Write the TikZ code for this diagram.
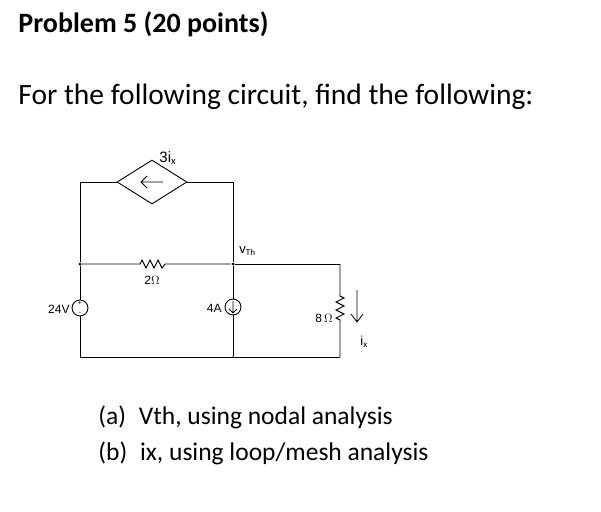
\documentclass[tikz,border=0pt]{standalone}
\usepackage{fontspec}
\setmainfont{Carlito}
\newfontfamily\cirfont{Liberation Sans}
\usetikzlibrary{shapes.geometric}
\begin{document}
\begin{tikzpicture}[x=1pt,y=-1pt,line width=0.9pt,
  dot/.style={circle,fill,inner sep=0pt,minimum size=3pt},
  src/.style={circle,draw,line width=0.9pt,inner sep=0pt,minimum size=16pt},
  ctext/.style={font=\cirfont\fontsize{12}{12}\selectfont,inner sep=1pt}]
\useasboundingbox (0,0) rectangle (601,511);
\node[anchor=west,inner sep=0pt,font=\bfseries\fontsize{28}{28}\selectfont] (title) at (18,24) {Problem 5 (20 points)};
\node[anchor=west,inner sep=0pt,font=\fontsize{29.5}{29.5}\selectfont] (q) at (18,97) {For the following circuit, find the following:};
\node[anchor=west,inner sep=0pt,font=\fontsize{25.5}{25.5}\selectfont] (pa) at (98,417) {(a)\; Vth, using nodal analysis};
\node[anchor=west,inner sep=0pt,font=\fontsize{25.5}{25.5}\selectfont] (pb) at (98,453) {(b)\; ix, using loop/mesh analysis};
\coordinate (tl) at (80,182); \coordinate (tr) at (233,182);
\node[dot] (ml) at (80,264) {}; \node[dot] (mm) at (233,264) {};
\coordinate (mr) at (340,264);
\coordinate (bl) at (80,357); \node[dot,minimum size=2pt] (bm) at (233,357) {}; \coordinate (br) at (340,357);
\node[draw,diamond,line width=0.9pt,minimum width=70pt,minimum height=44pt,inner sep=0pt] (dep) at (152,182) {};
\draw[line width=0.8pt] (163,182) -- (141,182) (147,176) -- (141,182) -- (147,188);
\node[ctext,font=\cirfont\fontsize{15}{15}\selectfont,anchor=west] (dl) at (158,158) {3i$_{\mathrm{x}}$};
\draw (ml) -- (tl) -- (dep.west) (dep.east) -- (tr) -- (mm);
\coordinate (r2a) at (140,264);
\draw (ml) -- (r2a) -- ++(2,-4) -- ++(4,8) -- ++(4,-8) -- ++(4,8) -- ++(4,-8) -- ++(4,8) -- ++(3,-4) -- (mm);
\node[ctext] (l2) at (152,280) {2$\Omega$};
\node[ctext,font=\cirfont\fontsize{13}{13}\selectfont,anchor=west] (lv) at (238,251) {v$_{\mathrm{Th}}$};
\draw (mm) -- (mr);
\node[src] (vs) at (80,308) {};
\node[font=\cirfont\fontsize{7}{7}\selectfont,inner sep=0pt] (vp) at (80,303) {+};
\node[font=\cirfont\fontsize{7}{7}\selectfont,inner sep=0pt] (vm) at (80,313) {-};
\draw (ml) -- (vs.north) (vs.south) -- (bl) -- (br);
\node[ctext,anchor=east] (lvs) at (71,309) {24V};
\node[src] (cs) at (233,307) {};
\draw[line width=0.8pt] (233,301) -- (233,313) (229,309) -- (233,313) -- (237,309);
\draw (mm) -- (cs.north) (cs.south) -- (bm);
\node[ctext,anchor=east] (lcs) at (223,308) {4A};
\draw (mr) -- (340,296) -- ++(4,2) -- ++(-8,4) -- ++(8,4) -- ++(-8,4) -- ++(8,4) -- ++(-8,4) -- ++(4,2) -- (br);
\node[ctext,anchor=east] (l8) at (334,318) {8$\,\Omega$};
\coordinate (ia) at (357,290); \coordinate (ib) at (357,322);
\draw[line width=0.8pt] (ia) -- (ib) (351,314) -- (ib) -- (363,314);
\node[ctext,font=\cirfont\fontsize{13}{13}\selectfont,anchor=west] (lix) at (359,342) {i$_{\mathrm{x}}$};
\end{tikzpicture}
\end{document}
